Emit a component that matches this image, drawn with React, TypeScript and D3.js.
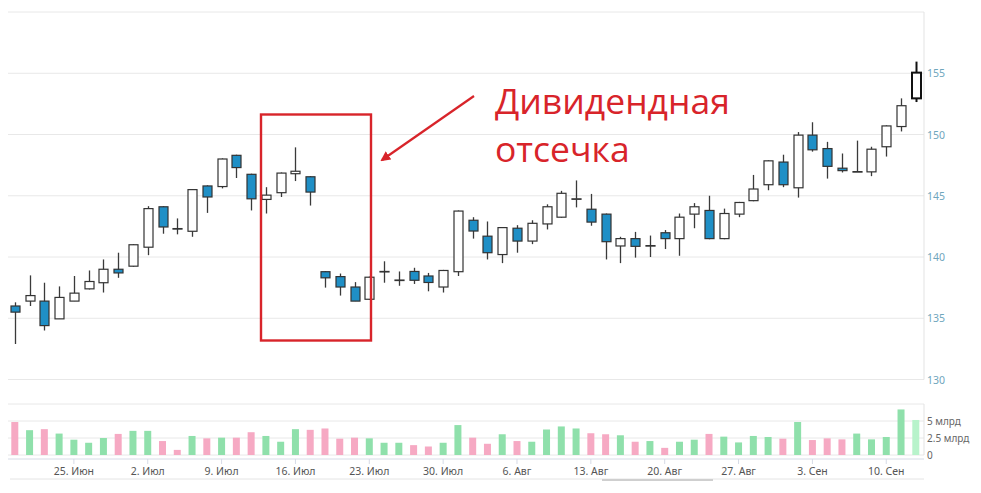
import React from "react";
import * as d3 from "d3";

const opens = [136.0, 136.4, 136.4, 134.95, 136.4, 137.4, 137.9, 139.0, 139.25, 140.8, 144.1, 142.32, 142.1, 145.8, 145.75, 148.3, 146.75, 144.7, 145.25, 146.8, 146.55, 138.8, 138.4, 137.55, 136.55, 138.8, 138.1, 138.82, 138.45, 137.55, 138.8, 143.0, 141.7, 140.2, 142.35, 141.3, 142.7, 143.25, 144.72, 143.9, 143.5, 140.9, 141.5, 140.9, 141.98, 141.5, 143.5, 143.8, 141.5, 143.5, 144.6, 145.9, 147.75, 145.65, 149.95, 148.85, 147.25, 146.95, 146.95, 149.0, 150.65, 152.95];
const highs = [136.3, 138.5, 137.9, 137.6, 138.45, 138.9, 139.8, 140.35, 141.05, 144.15, 144.15, 143.15, 145.55, 145.85, 148.05, 148.35, 146.8, 145.7, 146.9, 148.95, 146.6, 138.85, 138.65, 137.95, 138.4, 139.65, 138.82, 139.12, 138.7, 138.95, 143.8, 143.25, 142.9, 142.45, 142.6, 143.0, 144.3, 145.4, 146.25, 145.15, 143.55, 141.65, 142.05, 141.75, 142.2, 143.55, 144.4, 145.0, 143.95, 144.5, 146.7, 147.9, 148.35, 150.2, 151.0, 149.4, 148.45, 149.5, 149.0, 150.75, 152.95, 155.95];
const lows = [132.9, 136.0, 134.0, 134.95, 136.4, 137.35, 137.1, 138.3, 139.2, 140.15, 141.9, 141.85, 141.65, 143.6, 145.6, 146.45, 143.8, 143.55, 144.9, 146.2, 144.2, 137.5, 136.85, 136.4, 136.5, 137.9, 137.65, 137.8, 137.2, 137.1, 138.45, 141.5, 139.8, 139.5, 140.35, 141.05, 142.25, 143.2, 144.05, 142.55, 139.8, 139.5, 139.95, 140.0, 140.65, 140.1, 142.35, 141.45, 141.45, 143.25, 144.55, 145.45, 145.7, 144.85, 148.6, 146.4, 146.9, 146.95, 146.6, 148.2, 150.25, 152.65];
const closes = [135.5, 136.85, 134.4, 136.7, 137.05, 138.0, 139.0, 138.7, 141.0, 143.95, 142.45, 142.28, 145.5, 144.9, 148.0, 147.3, 144.75, 145.05, 146.85, 147.0, 145.3, 138.3, 137.55, 136.4, 138.35, 138.82, 138.12, 138.1, 137.92, 138.9, 143.75, 142.12, 140.35, 142.4, 141.3, 142.75, 144.1, 145.2, 144.75, 142.85, 141.25, 141.5, 140.87, 140.93, 141.5, 143.25, 144.1, 141.5, 143.55, 144.45, 145.55, 147.85, 145.9, 149.95, 148.75, 147.4, 147.05, 146.97, 148.8, 150.7, 152.35, 155.05];
const volumes = [4.85, 3.65, 3.8, 3.15, 2.25, 1.8, 2.5, 3.1, 3.55, 3.55, 2.05, 0.75, 2.8, 2.45, 2.55, 2.55, 3.35, 2.8, 1.95, 3.8, 3.7, 3.9, 2.4, 2.55, 2.45, 1.8, 1.8, 1.45, 1.25, 1.8, 4.4, 2.55, 1.65, 3.05, 2.05, 1.95, 3.75, 4.2, 3.9, 3.2, 3.05, 2.9, 1.95, 2.05, 1.05, 1.95, 2.25, 3.1, 2.7, 1.85, 2.8, 2.65, 2.4, 4.85, 2.2, 2.45, 2.3, 3.15, 2.3, 2.65, 6.7, 5.15];

const dateTickIdx = [4, 9, 14, 19, 24, 29, 34, 39, 44, 49, 54, 59];
const dateTickLabels = ["25. Июн", "2. Июл", "9. Июл", "16. Июл", "23. Июл", "30. Июл", "6. Авг", "13. Авг", "20. Авг", "27. Авг", "3. Сен", "10. Сен"];
const priceTicks = [130, 135, 140, 145, 150, 155, 160];
const priceLabelTicks = [130, 135, 140, 145, 150, 155];
const volumeTicks = [0, 2.5, 5, 7.5];
const volumeLabels = ["0", "2.5 млрд", "5 млрд"];

const annotationLines = ["Дивидендная", "отсечка"];

export default function App() {
  const n = opens.length;
  const x = d3.scaleLinear().domain([0, n - 1]).range([14.8, 915.8]);
  const y = d3.scaleLinear().domain([130, 160]).range([379.5, 12]);
  const yv = d3.scaleLinear().domain([0, 7.5]).range([455, 404]);
  const left = 8;
  const right = 924;
  const bodyW = 9;
  const volW = 7;
  const blue = "#1f8fc6";
  const pink = "#f6a9c3";
  const green = "#8fe0ab";
  const font = "'Noto Sans', 'DejaVu Sans', sans-serif";

  return (
    <svg
      width={981}
      height={493}
      style={{ position: "fixed", left: 0, top: 0, background: "#fff" }}
      fontFamily={font}
    >
      <rect x={0} y={0} width={981} height={493} fill="#fff" />
      {/* price grid */}
      {priceTicks.map((t) => (
        <line key={"pg" + t} x1={left} x2={right} y1={y(t)} y2={y(t)} stroke="#e8e8e8" strokeWidth={1} />
      ))}
      <line x1={right} x2={right} y1={y(160)} y2={y(130)} stroke="#e3e3e3" strokeWidth={1} />
      {priceLabelTicks.map((t) => (
        <text key={"pl" + t} x={927} y={y(t) + 4} fontSize={10.5} fill="#6fa6bd">
          {t}
        </text>
      ))}
      {/* volume grid */}
      {volumeTicks.map((t) => (
        <line key={"vg" + t} x1={left} x2={right} y1={yv(t)} y2={yv(t)} stroke="#e8e8e8" strokeWidth={1} />
      ))}
      <line x1={right} x2={right} y1={yv(7.5)} y2={yv(0)} stroke="#e3e3e3" strokeWidth={1} />
      {volumeLabels.map((l, i) => (
        <text key={"vl" + i} x={927} y={yv(volumeTicks[i]) + 4} fontSize={10} fill="#666">
          {l}
        </text>
      ))}
      {/* volume bars */}
      {volumes.map((v, i) => {
        const up = closes[i] >= opens[i];
        const last = i === n - 1;
        return (
          <rect
            key={"vb" + i}
            x={x(i) - volW / 2}
            y={yv(v)}
            width={volW}
            height={yv(0) - yv(v)}
            fill={last ? "#b8f3cb" : up ? green : pink}
          />
        );
      })}
      {/* x axis */}
      <line x1={left} x2={right} y1={459} y2={459} stroke="#d6dbe6" strokeWidth={1} />
      {dateTickIdx.map((idx, i) => (
        <g key={"dt" + i}>
          <line x1={x(idx)} x2={x(idx)} y1={459} y2={464} stroke="#d6dbe6" strokeWidth={1} />
          <text x={x(idx)} y={475} fontSize={10.5} fill="#555" textAnchor="middle">
            {dateTickLabels[i]}
          </text>
        </g>
      ))}
      <line x1={10} x2={right} y1={479} y2={479} stroke="#e4e4e4" strokeWidth={1} />
      <line x1={602} x2={713} y1={480} y2={480} stroke="#cfcfcf" strokeWidth={2} />
      {/* candles */}
      {opens.map((o, i) => {
        const c = closes[i];
        const up = c >= o;
        const last = i === n - 1;
        const top = y(Math.max(o, c));
        const bot = y(Math.min(o, c));
        const cx = Math.round(x(i)) + 0.5;
        return (
          <g key={"c" + i}>
            <line x1={cx} x2={cx} y1={y(highs[i])} y2={y(lows[i])} stroke={last ? "#111" : "#3a3a3a"} strokeWidth={last ? 2 : 1.3} />
            <rect
              x={cx - bodyW / 2}
              y={top}
              width={bodyW}
              height={Math.max(bot - top, 0.5)}
              fill={up ? "#fff" : blue}
              stroke={last ? "#111" : "#333"}
              strokeWidth={last ? 2 : 1.2}
            />
          </g>
        );
      })}
      {/* annotation */}
      <rect x={261} y={114.5} width={110} height={226} fill="none" stroke="#d8242a" strokeWidth={2.4} />
      <defs>
        <marker id="arrowHead" markerWidth={10} markerHeight={10} refX={8} refY={5} orient="auto" markerUnits="userSpaceOnUse">
          <path d="M0,0 L10,5 L0,10 z" fill="#d8242a" />
        </marker>
      </defs>
      <line x1={474} x2={382} y1={96} y2={160} stroke="#d8242a" strokeWidth={2.2} markerEnd="url(#arrowHead)" />
      <text x={495} y={114} fontSize={35.5} fill="#d8242a" fontFamily="'Open Sans', sans-serif">
        {annotationLines[0]}
      </text>
      <text x={495} y={162} fontSize={35.5} fill="#d8242a" fontFamily="'Open Sans', sans-serif">
        {annotationLines[1]}
      </text>
    </svg>
  );
}
